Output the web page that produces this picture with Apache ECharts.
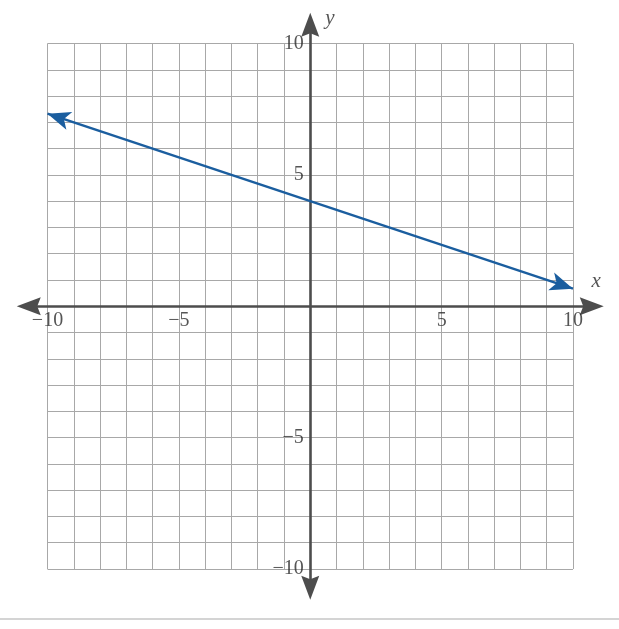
<!DOCTYPE html>
<html>
<head>
<meta charset="utf-8">
<script src="https://cdn.jsdelivr.net/npm/echarts@6/dist/echarts.min.js"></script>
<style>
  html, body { margin: 0; padding: 0; background: #fff; }
  #wrap { position: relative; width: 619px; height: 629px; }
  #chart { position: absolute; left: 0; top: 0; width: 619px; height: 629px; }
  #rule { position: absolute; left: 0; top: 618px; width: 619px; height: 2px; background: #d4d4d4; }
</style>
</head>
<body>
<div id="wrap"><div id="chart"></div><div id="rule"></div></div>
<script>
// ---- data ----
const xTickValues = [-10, -5, 5, 10];
const xTickLabels = ['\u221210', '\u22125', '5', '10'];
const yTickValues = [-10, -5, 5, 10];
const yTickLabels = ['\u221210', '\u22125', '5', '10'];
const lineX = [-10, 10];          // blue line end points (arrow tips)
const lineY = [7.33, 0.67];
const axisReach = 11.17;          // dark axis arrow tips
const axisMin = -10, axisMax = 10;
const axisNames = ['x', 'y'];

// ---- layout / style ----
const G = { left: 47.5, top: 43.5, size: 525.5 };
const unit = G.size / (axisMax - axisMin);   // px per data unit
const nameAnchors = [[10.88, 0.96], [0.75, 10.95]];  // where the axis names sit
const blueArrow = [14, 23];
const darkArrow = [18, 24];
const serif = '"Liberation Serif", "Times New Roman", serif';
const textColor = '#2b2b2b';

// shorten a segment so an endpoint-centred arrow puts its tip at the given point
function shorten(p1, p2, px) {
  const dx = p2[0] - p1[0], dy = p2[1] - p1[1];
  const len = Math.sqrt(dx * dx + dy * dy);
  const s = px / unit / len;
  return [[p1[0] + dx * s, p1[1] + dy * s], [p2[0] - dx * s, p2[1] - dy * s]];
}

const blueCoords = [[lineX[0], lineY[0]], [lineX[1], lineY[1]]];
const xAxisCoords = shorten([-axisReach, 0], [axisReach, 0], darkArrow[1] / 2);
const yAxisCoords = shorten([0, -axisReach], [0, axisReach], darkArrow[1] / 2);

const darkPath = 'path://M9,0L18,24L9,20.5L0,24Z';

const hiddenAxis = {
  type: 'value', min: axisMin, max: axisMax, interval: 1,
  axisLine: { show: false },
  axisTick: { show: false },
  axisLabel: { show: false },
  splitLine: { show: true, showMinLine: true, showMaxLine: true, lineStyle: { color: '#a8a8a8', width: 1 } }
};

const labelBase = { show: true, color: textColor, fontFamily: serif, fontSize: 20 };
const invisible = { color: 'rgba(0,0,0,0)' };

const chart = echarts.init(document.getElementById('chart'), null, { renderer: 'canvas' });
chart.setOption({
  animation: false,
  backgroundColor: '#fff',
  grid: { left: G.left, top: G.top, width: G.size, height: G.size, containLabel: false, outerBoundsMode: 'none' },
  xAxis: Object.assign({}, hiddenAxis),
  yAxis: Object.assign({}, hiddenAxis),
  series: [
    {
      type: 'lines', coordinateSystem: 'cartesian2d', clip: false, silent: true, z: 3,
      symbol: [darkPath, darkPath], symbolSize: [darkArrow, darkArrow],
      lineStyle: { color: '#4d4d4d', width: 2.6, opacity: 1, curveness: 0 },
      data: [{ coords: xAxisCoords }, { coords: yAxisCoords }]
    },
    {
      type: 'lines', coordinateSystem: 'cartesian2d', clip: false, silent: true, z: 4,
      symbol: ['arrow', 'arrow'], symbolSize: [blueArrow, blueArrow],
      lineStyle: { color: '#1b5e9f', width: 2.5, opacity: 1, curveness: 0 },
      data: [{ coords: blueCoords }]
    },
    {
      type: 'scatter', clip: false, silent: true, z: 5, symbolSize: 1, itemStyle: invisible,
      label: Object.assign({}, labelBase, { position: 'bottom', distance: 4,
        formatter: p => xTickLabels[p.dataIndex] }),
      data: xTickValues.map(v => [v, 0])
    },
    {
      type: 'scatter', clip: false, silent: true, z: 5, symbolSize: 1, itemStyle: invisible,
      label: Object.assign({}, labelBase, { position: 'left', distance: 6,
        formatter: p => yTickLabels[p.dataIndex] }),
      data: yTickValues.map(v => [0, v])
    },
    {
      type: 'scatter', clip: false, silent: true, z: 5, symbolSize: 1, itemStyle: invisible,
      label: Object.assign({}, labelBase, { position: 'inside', fontStyle: 'italic', fontSize: 21,
        formatter: p => axisNames[p.dataIndex] }),
      data: nameAnchors
    }
  ]
});
</script>
</body>
</html>
